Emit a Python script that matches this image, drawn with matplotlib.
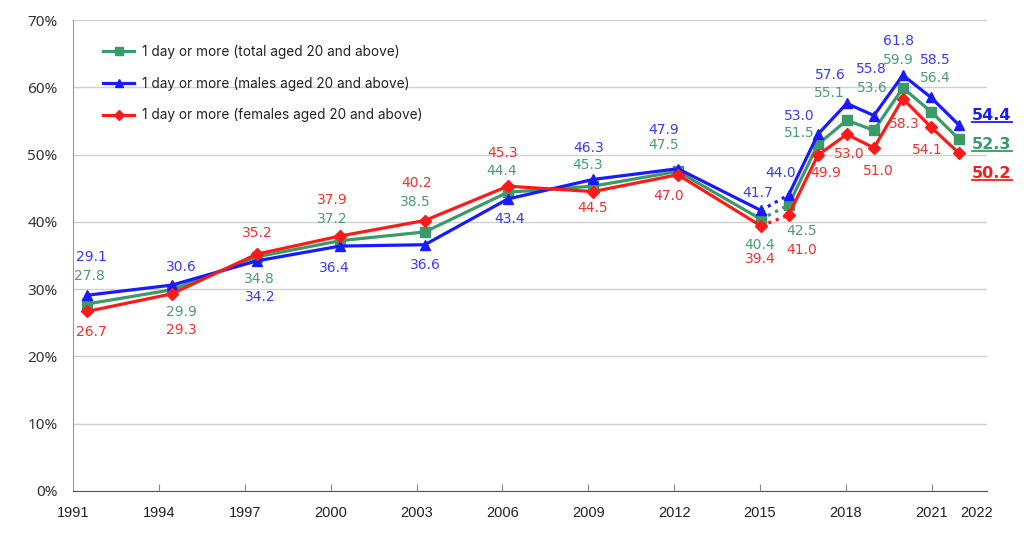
import matplotlib
matplotlib.use("Agg")
import matplotlib.pyplot as plt
from matplotlib.lines import Line2D
from matplotlib.ticker import FuncFormatter

# survey timing (fractional year as laid out on the axis)
survey_x = [1991.5, 1994.45, 1997.42, 2000.33, 2003.29, 2006.19, 2009.16, 2012.13,
            2015.03, 2016.0, 2017.02, 2018.03, 2018.98, 2019.99, 2020.97, 2021.95]

total = [27.8, 29.9, 34.8, 37.2, 38.5, 44.4, 45.3, 47.5,
         40.4, 42.5, 51.5, 55.1, 53.6, 59.9, 56.4, 52.3]
males = [29.1, 30.6, 34.2, 36.4, 36.6, 43.4, 46.3, 47.9,
         41.7, 44.0, 53.0, 57.6, 55.8, 61.8, 58.5, 54.4]
females = [26.7, 29.3, 35.2, 37.9, 40.2, 45.3, 44.5, 47.0,
           39.4, 41.0, 49.9, 53.0, 51.0, 58.3, 54.1, 50.2]

legend_labels = ["1 day or more (total aged 20 and above)",
                 "1 day or more (males aged 20 and above)",
                 "1 day or more (females aged 20 and above)"]

tick_years = [1991, 1994, 1997, 2000, 2003, 2006, 2009, 2012, 2015, 2018, 2021]

# label offsets in pixels (dx, dy downwards)
off_total = [(2, -28), (10, 22), (3, 22), (-8, -22), (-9, -30), (-6, -21), (-5, -21), (-14, -26),
             (-1, 26), (13, 26), (-19, -11), (-17, -27), (-2, -42), (-4, -28), (4, -34), (33, 5)]
off_males = [(4, -38), (10, -18), (3, 36), (-6, 22), (1, 20), (2, 20), (-4, -31), (-14, -39),
             (-3, -17), (-8, -22), (-19, -18), (-16, -28), (-3, -47), (-4, -34), (4, -37), (33, -9)]
off_females = [(4, 21), (10, 36), (0, -21), (-8, -36), (-8, -38), (-5, -33), (0, 16), (-9, 21),
               (-1, 33), (13, 35), (8, 18), (3, 20), (4, 23), (1, 25), (-4, 23), (33, 20)]

series = [
    (total, "#3a9a68", "#4a9e72", "s", off_total),
    (males, "#1a1aff", "#3a3af0", "^", off_males),
    (females, "#ff1a1a", "#f03030", "D", off_females),
]

fig = plt.figure(figsize=(10.24, 5.33), dpi=100)
ax = fig.add_axes([73 / 1024, 1 - 491 / 533, 914 / 1024, 471 / 533])

brk = 9  # method change between 2015 and 2016 -> dotted link
handles = []
for (vals, lc, tc, mk, offs), lab in zip(series, legend_labels):
    msize = 6.5 if mk == "D" else 7.5
    h, = ax.plot(survey_x[:brk], vals[:brk], color=lc, lw=2.3, marker=mk, ms=msize, label=lab, zorder=3)
    ax.plot(survey_x[brk:], vals[brk:], color=lc, lw=2.3, marker=mk, ms=msize, zorder=3)
    ax.plot(survey_x[brk - 1:brk + 1], vals[brk - 1:brk + 1], color=lc, lw=2.3, ls=(0, (1, 1.5)), zorder=2)
    handles.append(h)
    for i, (x, v) in enumerate(zip(survey_x, vals)):
        dx, dy = offs[i]
        last = i == len(vals) - 1
        t = ax.annotate(f"{v:.1f}", (x, v), xytext=(dx, -dy), textcoords="offset pixels",
                        ha="center", va="center", color=(lc if last else tc),
                        fontsize=11.5 if last else 10, fontweight="bold" if last else "normal",
                        family="DejaVu Sans", annotation_clip=False)
        if last:
            t._underline_color = lc

ax.set_ylim(0, 70)
ax.set_xlim(1991, 2022.93)
ax.set_yticks(range(0, 71, 10))
ax.yaxis.set_major_formatter(FuncFormatter(lambda v, p: f"{int(v)}%"))
ax.grid(axis="y", color="#d0d0d0", lw=1)
ax.set_axisbelow(True)
ax.set_xticks(tick_years + [2022.58])
ax.set_xticklabels([str(y) for y in tick_years] + ["2022"])
ax.tick_params(axis="x", direction="in", length=5, color="#888888", pad=11, labelsize=10.5,
               labelcolor="#222222")
ax.xaxis.get_major_ticks()[-1].tick1line.set_visible(False)
ax.xaxis.get_major_ticks()[0].tick1line.set_visible(False)
ax.tick_params(axis="y", length=0, pad=11, labelsize=11, labelcolor="#333333")
for lbl in ax.get_xticklabels():
    lbl.set_family("Liberation Sans")
for lbl in ax.get_yticklabels():
    lbl.set_family("Noto Sans")
for s in ["top", "right"]:
    ax.spines[s].set_visible(False)
ax.spines["left"].set_color("#999999")
ax.spines["bottom"].set_color("#555555")

leg = ax.legend(handles=handles, loc="upper left", bbox_to_anchor=(0.033, 0.947), frameon=False,
                prop={"family": "Inter", "size": 9.8}, handlelength=2.3, handletextpad=0.55,
                labelspacing=1.3, borderpad=0, borderaxespad=0, markerscale=0.8)
for t in leg.get_texts():
    t.set_color("#222222")

# underline the latest values
fig.canvas.draw()
r = fig.canvas.get_renderer()
for t in ax.texts:
    c = getattr(t, "_underline_color", None)
    if c is None:
        continue
    bb = t.get_window_extent(r).transformed(fig.transFigure.inverted())
    yb = bb.y0 + 1.0 / 533
    fig.add_artist(Line2D([bb.x0, bb.x1], [yb, yb], transform=fig.transFigure, color=c, lw=1.3))

fig.savefig("out.png", dpi=100)
